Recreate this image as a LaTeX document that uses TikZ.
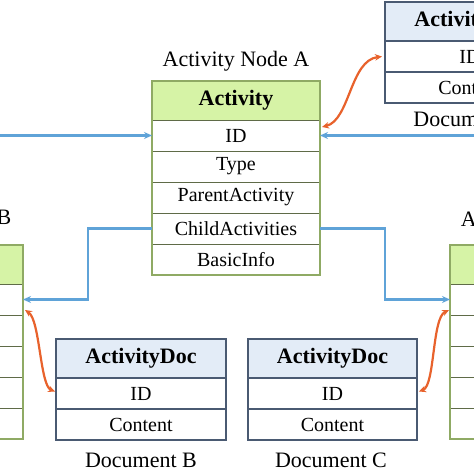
\documentclass[tikz,border=0pt]{standalone}
\usepackage{fontspec}
\setmainfont{Liberation Serif}
\usetikzlibrary{arrows.meta,calc}
\definecolor{agreen}{HTML}{D6F3A6}
\definecolor{aborder}{HTML}{8FAA64}
\definecolor{asep}{HTML}{5F6B48}
\definecolor{dfill}{HTML}{E3ECF7}
\definecolor{dborder}{HTML}{4A5A72}
\definecolor{lblue}{HTML}{5FA3D8}
\definecolor{lorange}{HTML}{E8622C}
\tikzset{
  ahdr/.style={draw=asep, line width=1pt, fill=agreen, minimum width=168pt, minimum height=39pt,
    inner sep=0pt, outer sep=0pt, anchor=north west, font=\fontsize{22}{24}\selectfont\bfseries},
  arow/.style={draw=asep, line width=1pt, fill=white, minimum width=168pt, minimum height=31pt,
    inner sep=0pt, outer sep=0pt, anchor=north west, font=\fontsize{20}{22}\selectfont},
  aframe/.style={draw=aborder, line width=1.3pt},
  dhdr/.style={draw=dborder, line width=1.1pt, fill=dfill, minimum width=#1, minimum height=39pt,
    inner sep=0pt, outer sep=0pt, anchor=north west, font=\fontsize{22}{24}\selectfont\bfseries},
  drow/.style={draw=dborder, line width=1.1pt, fill=white, minimum width=#1, minimum height=31pt,
    inner sep=0pt, outer sep=0pt, anchor=north west, font=\fontsize{20}{22}\selectfont},
  ttl/.style={anchor=base, inner sep=0pt, font=\fontsize{22}{24}\selectfont},
  blueln/.style={draw=lblue, line width=2.4pt, -{Stealth[length=8pt,width=7pt]}},
  orln/.style={draw=lorange, line width=2.2pt, {Stealth[length=7pt,width=6.5pt]}-{Stealth[length=7pt,width=6.5pt]}}
}
% full activity table
\newcommand\ActTable[3]{%
  \node[ahdr] (#1h) at (#2,#3) {Activity};
  \node[arow] (#1id) at (#2,#3+39) {ID};
  \node[arow] (#1ty) at (#2,#3+70) {Type};
  \node[arow] (#1pa) at (#2,#3+101) {ParentActivity};
  \node[arow] (#1ch) at (#2,#3+132) {ChildActivities};
  \node[arow] (#1bi) at (#2,#3+163) {BasicInfo};
  \draw[aframe] (#1h.north west) rectangle (#1bi.south east);
}
% activity table whose texts lie outside the picture
\newcommand\ActTableCut[3]{%
  \node[ahdr] (#1h) at (#2,#3) {};
  \node[arow] (#1id) at (#2,#3+39) {};
  \node[arow] (#1ty) at (#2,#3+70) {};
  \node[arow] (#1pa) at (#2,#3+101) {};
  \node[arow] (#1ch) at (#2,#3+132) {};
  \node[arow] (#1bi) at (#2,#3+163) {};
  \draw[aframe] (#1h.north west) rectangle (#1bi.south east);
}
\newcommand\DocTable[4]{%
  \node[dhdr=#4] (#1h) at (#2,#3) {ActivityDoc};
  \node[drow=#4] (#1id) at (#2,#3+39) {ID};
  \node[drow=#4] (#1ct) at (#2,#3+70) {Content};
}
\begin{document}
\begin{tikzpicture}[x=1pt,y=-1pt]
\useasboundingbox (0,0) rectangle (474,474);
\clip (0,0) rectangle (474,474);
\fill[white] (0,0) rectangle (474,474);

% activity nodes
\ActTable{A}{152}{81}
\ActTableCut{B}{-145}{245}
\ActTableCut{C}{450}{245}
\node[ttl] (tA) at (236,66) {Activity Node A};
\node[ttl] (tB) at (-61.5,224) {Activity Node B};
\node[ttl] (tC) at (533.5,226) {Activity Node C};

% documents
\DocTable{DA}{385}{2}{170pt}
\DocTable{DB}{56}{339}{170pt}
\DocTable{DC}{248}{339}{169pt}
\node[ttl] (lA) at (470,126) {Document A};
\node[ttl] (lB) at (141,467) {Document B};
\node[ttl] (lC) at (331,467) {Document C};

% blue connectors
\coordinate (inL) at (-20,135.5);
\coordinate (inR) at (494,135.5);
\draw[blueln] (inL) -- (Aid.west);
\draw[blueln] (inR) -- (Aid.east);
\draw[blueln] (Ach.east) -- ++(65,0) |- (Cid.west);
\draw[blueln] (Ach.west) -- ++(-64,0) |- (Bid.east);

% orange connectors
\draw[orln] ($(Aid.north east)+(2,7)$) .. controls +(28,-7) and +(-32,4) .. ($(DAid.west)+(-3,0)$);
\draw[orln] ($(Bid.south east)+(2,-5)$) .. controls +(15,10) and +(-15,-6) .. ($(DBid.west)+(-1,-2)$);
\draw[orln] ($(DCid.east)+(2,-2)$) .. controls +(16,-6) and +(-17,8) .. ($(Cid.south west)+(-1,-5)$);
\end{tikzpicture}
\end{document}
